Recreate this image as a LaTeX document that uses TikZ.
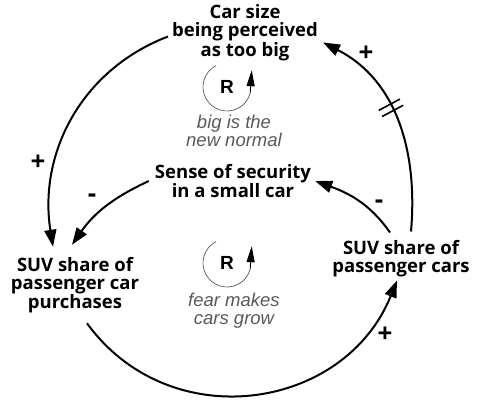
\documentclass[tikz,border=0pt]{standalone}
\usepackage{fontspec}
\setmainfont{Open Sans}
\newfontfamily\loopfont{Liberation Sans}
\usetikzlibrary{positioning,arrows.meta,decorations.markings}
\definecolor{loopgray}{HTML}{595959}

\begin{document}
\begin{tikzpicture}[x=1pt, y=1pt,
    varbox/.style={align=center, inner sep=0pt,
                   font=\fontsize{18.5}{18}\selectfont\bfseries},
    link/.style={-{Triangle[length=17pt,width=12pt]}, line width=2pt},
    sign/.style={font=\fontsize{26}{26}\selectfont\bfseries, inner sep=0pt},
    loopname/.style={font=\loopfont\fontsize{19}{19}\selectfont\bfseries, inner sep=0pt},
    looptext/.style={font=\loopfont\itshape\fontsize{18.5}{18}\selectfont,
                     text=loopgray, align=center, inner sep=0pt},
    looparc/.style={line width=0.7pt, draw=loopgray},
    looptip/.style={-{Triangle[length=16pt,width=8pt]}, line width=0.9pt},
    delay/.style={postaction={decorate}, decoration={markings,
                  mark=at position #1 with {
                    \draw[-, line width=1.6pt] (-3.5pt,-12pt) -- (-3.5pt,12pt);
                    \draw[-, line width=1.6pt] (3.5pt,-12pt) -- (3.5pt,12pt);}}}
]
    \path[use as bounding box] (0,0) rectangle (480,-409);

    % variables
    \node[varbox] (top) at (245,-32.5) {Car size\\being perceived\\as too big};
    \node[varbox] (sense) at (233,-181) {Sense of security\\in a small car};
    \node[varbox] (left) at (75,-285) {SUV share of\\passenger car\\purchases};
    \node[varbox] (right) at (401,-259) {SUV share of\\passenger cars};

    % links
    \draw[link] ([shift={(-4pt,-4pt)}]top.west) to[out=201, in=99]
        ([shift={(-22pt,10pt)}]left.north);
    \draw[link] ([xshift=-6pt]sense.west) to[out=205, in=55]
        ([shift={(-3pt,12pt)}]left.north);
    \draw[link] ([shift={(12pt,-10pt)}]left.south) to[out=-54, in=248, looseness=1.15]
        ([shift={(-4pt,-3pt)}]right.south);
    \draw[link] ([shift={(-11pt,8pt)}]right.north) to[out=125, in=-20]
        ([xshift=4pt]sense.east);
    \draw[link, delay=0.57] ([shift={(10pt,9pt)}]right.north) to[out=85, in=-27]
        ([shift={(5pt,-10pt)}]top.east);

    % polarities
    \node[sign] (p1) at (38,-163) {+};
    \node[sign] (m1) at (92,-198) {-};
    \node[sign] (p2) at (385,-335) {+};
    \node[sign] (m2) at (379,-204) {-};
    \node[sign] (p3) at (366,-54) {+};

    % loop big is the new normal
    \node[loopname] (r1) at (227,-87) {R};
    \draw[looparc] ([shift={(117:24pt)}]r1.center) arc[start angle=117, end angle=345, radius=24pt]
        coordinate (r1end);
    \draw[looptip] (r1end) -- ++(1.5pt,23pt);
    \node[looptext, below=21pt of r1, xshift=7pt] (r1text) {big is the\\new normal};

    % loop fear makes cars grow
    \node[loopname] (r2) at (227,-263) {R};
    \draw[looparc] ([shift={(117:24pt)}]r2.center) arc[start angle=117, end angle=345, radius=24pt]
        coordinate (r2end);
    \draw[looptip] (r2end) -- ++(1.5pt,23pt);
    \node[looptext, below=23pt of r2, xshift=7pt] (r2text) {fear makes\\cars grow};
\end{tikzpicture}
\end{document}
